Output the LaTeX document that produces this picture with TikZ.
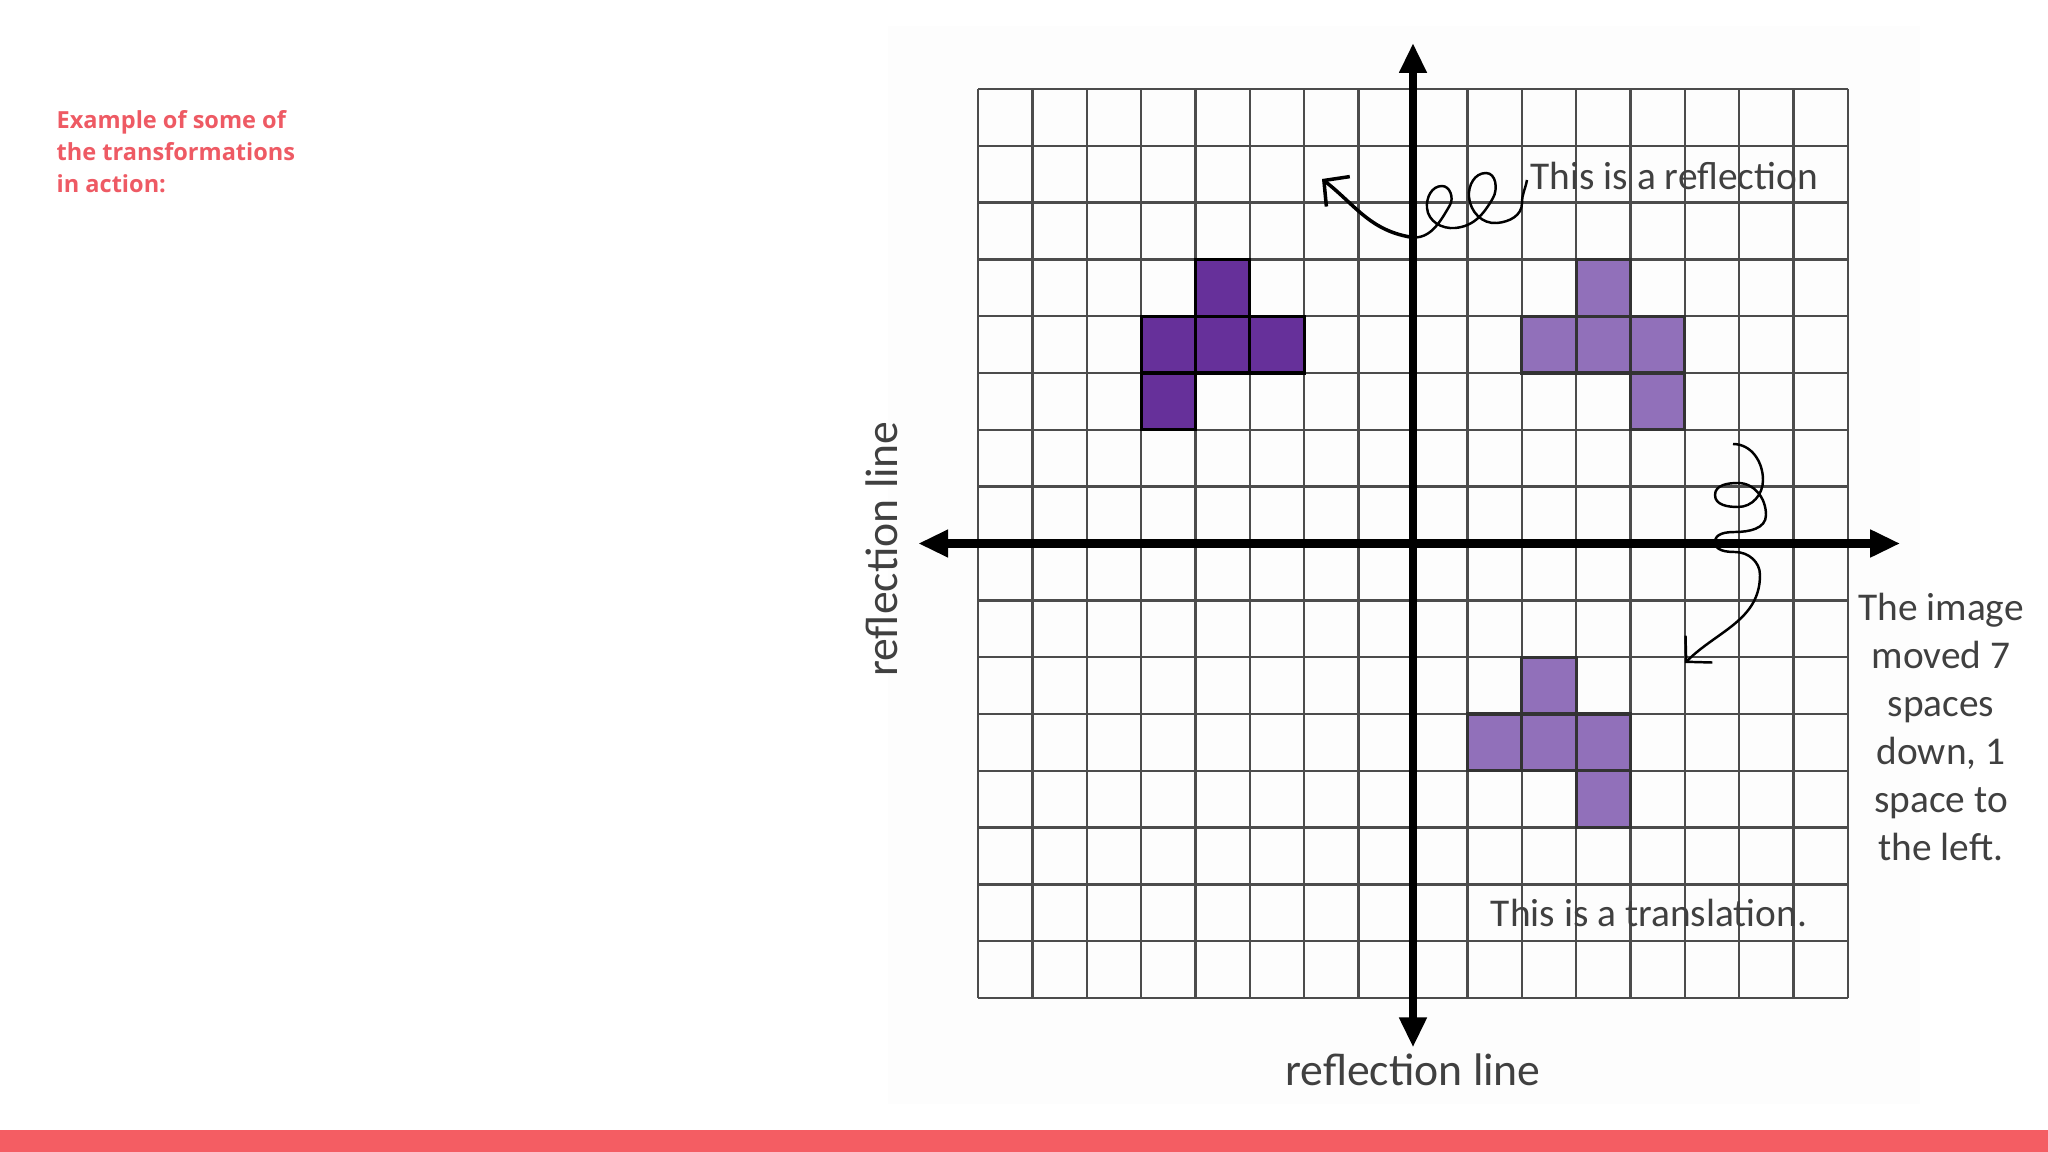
\documentclass[tikz,border=0pt]{standalone}
\usepackage{fontspec}
\usetikzlibrary{arrows.meta, positioning}
\newfontfamily\graphfont{Carlito}
\newfontfamily\headfont{Open Sans}
\definecolor{headred}{HTML}{EE5A64}
\definecolor{barred}{HTML}{F45D63}
\definecolor{darkpurple}{HTML}{66309A}
\definecolor{lightpurple}{HTML}{9170BA}

\begin{document}
\begin{tikzpicture}[
    gridline/.style={line width=0.7pt, draw=black!70},
    axis/.style={line width=2.3pt, {Triangle[length=0.30cm, width=0.26cm]}-{Triangle[length=0.30cm, width=0.26cm]}},
    darkcell/.style={fill=darkpurple, draw=black, line width=0.9pt},
    lightcell/.style={fill=lightpurple, draw=black!80, line width=0.9pt},
    curl/.style={line width=0.7pt, draw=black},
    barb/.tip={Straight Barb[length=0.18cm, width=0.38cm]},
    note/.style={font=\graphfont\fontsize{11.2}{13.7}\selectfont, text=black!75, inner sep=0pt},
    axlabel/.style={font=\graphfont\fontsize{13}{15}\selectfont, text=black!75, inner sep=0pt}
]
\useasboundingbox (0,0) rectangle (20.48,-11.52);
\fill [black!0.6] (8.88,-0.26) rectangle (19.20,-11.04);
\fill [barred] (0,-11.30) rectangle (20.48,-11.52);
\node (heading) [anchor=west, align=left, inner sep=0pt, text=headred,
      font=\headfont\bfseries\fontsize{6.7}{9.1}\selectfont] at (0.56,-1.52)
      {Example of some of\\the transformations\\in action:};
% grid, shapes and the two reflection lines
\begin{scope}[xshift=9.78cm, yshift=-0.89cm, x=0.54375cm, y=-0.568125cm]
\foreach \i in {0,...,16} {
    \draw [gridline] (\i,0) -- (\i,16);
    \draw [gridline] (0,\i) -- (16,\i);
}
\foreach \c/\r in {4/3, 3/4, 4/4, 5/4, 3/5}
    \draw [darkcell] (\c,\r) rectangle ++(1,1);
\foreach \c/\r in {11/3, 10/4, 11/4, 12/4, 12/5}
    \draw [lightcell] (\c,\r) rectangle ++(1,1);
\foreach \c/\r in {10/10, 9/11, 10/11, 11/11, 11/12}
    \draw [lightcell] (\c,\r) rectangle ++(1,1);
\draw [axis] (8,16.87) -- (8,-0.81);
\draw [axis] (-1.10,8) -- (16.96,8);
\end{scope}
% labels
\node (refl) [note, anchor=west] at (15.30,-1.76) {This is a reflection};
\node (transl) [note] at (16.49,-9.13) {This is a translation.};
\node (moved) [note, align=center] at (19.41,-7.27) {The image\\moved 7\\spaces\\down, 1\\space to\\the left.};
\node (botlabel) [axlabel] at (14.13,-10.70) {reflection line};
\node (leftlabel) [axlabel, rotate=90] at (8.82,-5.49) {reflection line};
% curly arrows
\coordinate (refltip) at (13.22,-1.79);
\coordinate (reflaxis) at (14.10,-2.37);
\draw [curl, line width=1pt, barb-] (refltip) to[out=-38, in=170] (reflaxis);
\draw [curl] (reflaxis) to[out=-10, in=240] (14.50,-2.05)
    to[out=60, in=0] (14.42,-1.86) to[out=180, in=95] (14.27,-2.08)
    to[out=275, in=185] (14.55,-2.28) to[out=5, in=240] (14.93,-1.98)
    to[out=60, in=0] (14.86,-1.73) to[out=180, in=95] (14.69,-1.97)
    to[out=275, in=185] (14.97,-2.23) to[out=5, in=270] (15.22,-2.03)
    to[out=90, in=260] ([xshift=-0.03cm, yshift=-0.04cm]refl.west);
\coordinate (transtart) at (17.33,-4.44);
\coordinate (trantip) at (16.85,-6.63);
\draw [curl, -barb] (transtart) to[out=0, in=90] (17.63,-4.80)
    to[out=270, in=0] (17.38,-5.07) to[out=180, in=270] (17.15,-4.95)
    to[out=90, in=180] (17.38,-4.83) to[out=0, in=90] (17.66,-5.15)
    to[out=270, in=0] (17.35,-5.32) to[out=180, in=90] (17.15,-5.42)
    to[out=270, in=180] (17.35,-5.52) to[out=0, in=90] (17.60,-5.75)
    to[out=270, in=45] (trantip);
\end{tikzpicture}
\end{document}
